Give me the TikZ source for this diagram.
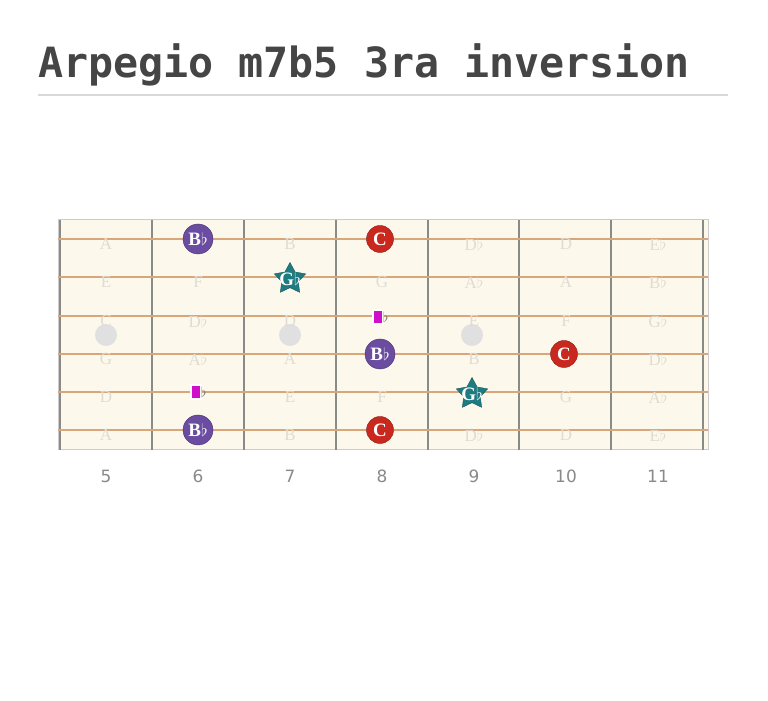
\documentclass[tikz,border=0pt]{standalone}
\usepackage{fontspec}
\usetikzlibrary{shapes.geometric}
\newfontfamily\titlefont{DejaVu Sans Mono}
\newfontfamily\numfont{DejaVu Sans}
\newfontfamily\notefont{Liberation Serif}
\definecolor{board}{HTML}{FDF8EC}
\definecolor{strng}{HTML}{D9A67C}
\definecolor{fretc}{HTML}{8A8A88}
\definecolor{ghost}{HTML}{E0DCD2}
\definecolor{rootc}{HTML}{C8281E}
\definecolor{fifthc}{HTML}{1E7B80}
\definecolor{thirdc}{HTML}{D010C8}
\definecolor{sevc}{HTML}{6A4CA0}
\begin{document}
\begin{tikzpicture}[x=1bp,y=1bp]
        \tikzstyle{ghostname}=[inner sep=0pt,text=ghost,font=\notefont\fontsize{17}{17}\selectfont];
        \tikzstyle{fretnum}=[inner sep=0pt,text=fretc,font=\numfont\fontsize{17}{17}\selectfont];
        \tikzstyle{dotmark}=[circle,fill=black!12,minimum size=22bp,inner sep=0pt];
        \tikzstyle{notetxt}=[text=white,font=\notefont\bfseries\fontsize{19}{19}\selectfont];
        \tikzstyle{root}=[circle,fill=rootc,draw=rootc!70!black,minimum size=27bp,inner sep=0pt,notetxt];
        \tikzstyle{sev}=[circle,fill=sevc,draw=sevc!70!black,minimum size=30bp,inner sep=0pt,notetxt];
        \tikzstyle{fifth}=[star,star points=5,star point ratio=1.9,fill=fifthc,draw=fifthc!70!black,minimum size=33bp,inner sep=0pt];
        \tikzstyle{third}=[rectangle,fill=thirdc,draw=white,line width=1.5bp,minimum width=10bp,minimum height=14bp,inner sep=0pt];
        \tikzstyle{flatmark}=[inner sep=0pt,text=black!55,font=\notefont\fontsize{15}{15}\selectfont];
        \useasboundingbox (0,0) rectangle (768,701);
        \fill[white] (0,0) rectangle (768,701);
        % title
        \node (title) [anchor=base west,inner sep=0pt,text=black!73,font=\titlefont\bfseries\fontsize{41.8}{42}\selectfont] at (38,623) {Arpegio m7b5 3ra inversion};
        \draw[black!15,line width=1.2bp] (38,606) -- (728,606);
        % board
        \fill[board] (58,251) rectangle (708,481);
        \draw[black!20,line width=1bp] (58,251) rectangle (708,481);
        \node[dotmark] (dot5) at (106,366) {};
        \node[dotmark] (dot7) at (290,366) {};
        \node[dotmark] (dot9) at (472,366) {};
        \foreach \x in {60,152,244,336,428,519,611,703}
            \draw[fretc,line width=2.5bp] (\x,251) -- (\x,481);
        \foreach \y in {462,424,385,347,309,271}
            \draw[strng,line width=2.5bp] (58,\y) -- (708,\y);
        % note names
        \foreach \n [count=\i] in {A,{},B,{},D$\flat$,D,E$\flat$}
            \node[ghostname] (e\i) at (14+92*\i,457) {\n};
        \foreach \n [count=\i] in {E,F,{},G,A$\flat$,A,B$\flat$}
            \node[ghostname] (b\i) at (14+92*\i,419) {\n};
        \foreach \n [count=\i] in {C,D$\flat$,D,{},E,F,G$\flat$}
            \node[ghostname] (g\i) at (14+92*\i,380) {\n};
        \foreach \n [count=\i] in {G,A$\flat$,A,{},B,{},D$\flat$}
            \node[ghostname] (d\i) at (14+92*\i,342) {\n};
        \foreach \n [count=\i] in {D,{},E,F,{},G,A$\flat$}
            \node[ghostname] (a\i) at (14+92*\i,304) {\n};
        \foreach \n [count=\i] in {A,{},B,{},D$\flat$,D,E$\flat$}
            \node[ghostname] (E\i) at (14+92*\i,266) {\n};
        % fret numbers
        \foreach \f [count=\i] in {5,6,7,8,9,10,11}
            \node[fretnum] (n\f) at (14+92*\i,225) {\f};
        % arpeggio
        \node[sev] (bb1) at (198,462) {B$\flat$};
        \node[sev] (bb2) at (380,347) {B$\flat$};
        \node[sev] (bb3) at (198,271) {B$\flat$};
        \node[root] (c1) at (380,462) {C};
        \node[root] (c2) at (564,347) {C};
        \node[root] (c3) at (380,271) {C};
        \node[fifth] (gb1) at (290,422) {};
        \node[notetxt,inner sep=0pt] (gb1txt) at (gb1.center) {G$\flat$};
        \node[fifth] (gb2) at (472,307) {};
        \node[notetxt,inner sep=0pt] (gb2txt) at (gb2.center) {G$\flat$};
        \node[third] (eb1) at (378,384) {};
        \node[flatmark,anchor=west] (eb1flat) at ([xshift=-1bp]eb1.east) {$\flat$};
        \node[third] (eb2) at (196,309) {};
        \node[flatmark,anchor=west] (eb2flat) at ([xshift=-1bp]eb2.east) {$\flat$};
    \end{tikzpicture}
\end{document}
